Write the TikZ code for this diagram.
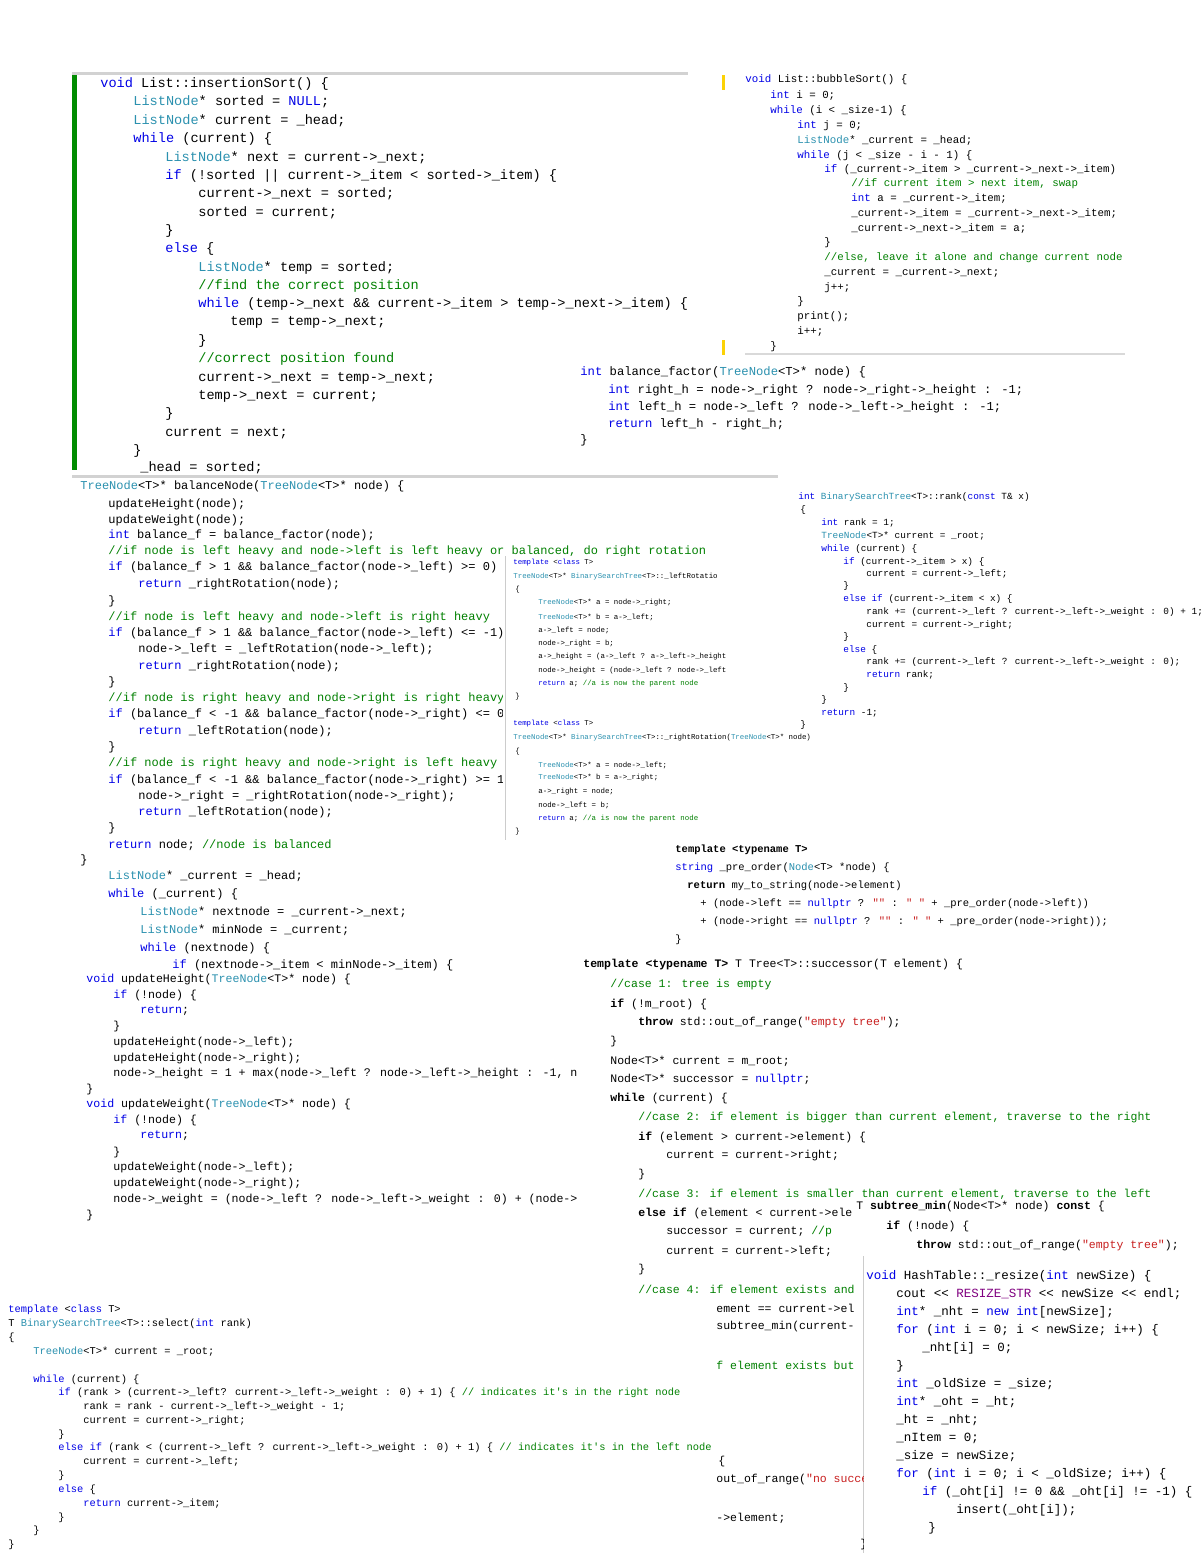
\documentclass[tikz,border=0pt]{standalone}
\usepackage{fontspec}
\newfontfamily\cf{Liberation Mono}
\definecolor{kw}{RGB}{0,0,230}
\definecolor{ty}{RGB}{43,145,175}
\definecolor{cm}{RGB}{0,128,0}
\definecolor{st}{RGB}{200,30,30}
\definecolor{fn}{RGB}{116,83,31}
\newcommand\kw[1]{\textcolor{kw}{#1}}
\newcommand\ty[1]{\textcolor{ty}{#1}}
\newcommand\cm[1]{\textcolor{cm}{#1}}
\newcommand\st[1]{\textcolor{st}{#1}}
\def\fs{6}
\newcommand\cl[3]{\node[anchor=west,inner sep=0pt,font=\cf\fontsize{\fs}{\fs}\selectfont] at (#1,#2) {#3};}
\catcode`\_=12
\begin{document}
\begin{tikzpicture}[x=0.5pt,y=-0.5pt]
\useasboundingbox[fill=white] (0,0) rectangle (1200,1553);
% decorations
\fill[gray!35] (72,72) rectangle (688,75);
\fill[green!55!black] (72,75) rectangle (77,470);
\fill[gray!35] (72,475) rectangle (778,478);
\fill[gray!30] (745,353) rectangle (1125,355);
\fill[yellow!70!orange] (722,75) rectangle (725,90);
\fill[yellow!70!orange] (722,340) rectangle (725,355);
\draw[gray!40] (863,1200) -- (863,1553);
% Block A insertionSort
\def\fs{6.8}
\cl{100}{84}{\kw{void} List::insertionSort() \{}
\cl{133}{102}{\ty{ListNode}* sorted = \kw{NULL};}
\cl{133}{121}{\ty{ListNode}* current = _head;}
\cl{133}{139}{\kw{while} (current) \{}
\cl{165}{158}{\ty{ListNode}* next = current->_next;}
\cl{165}{176}{\kw{if} (!sorted || current->_item < sorted->_item) \{}
\cl{198}{194}{current->_next = sorted;}
\cl{198}{213}{sorted = current;}
\cl{165}{231}{\}}
\cl{165}{249}{\kw{else} \{}
\cl{198}{268}{\ty{ListNode}* temp = sorted;}
\cl{198}{286}{\cm{//find the correct position}}
\cl{198}{304}{\kw{while} (temp->_next \&\& current->_item > temp->_next->_item) \{}
\cl{230}{322}{temp = temp->_next;}
\cl{198}{341}{\}}
\cl{198}{359}{\cm{//correct position found}}
\cl{198}{378}{current->_next = temp->_next;}
\cl{198}{396}{temp->_next = current;}
\cl{165}{414}{\}}
\cl{165}{433}{current = next;}
\cl{133}{451}{\}}
\cl{140}{468}{_head = sorted;}
% Block B bubbleSort
\def\fs{5.4}
\cl{745}{80}{\kw{void} List::bubbleSort() \{}
\cl{770}{96}{\kw{int} i = 0;}
\cl{770}{111}{\kw{while} (i < _size-1) \{}
\cl{797}{126}{\kw{int} j = 0;}
\cl{797}{141}{\ty{ListNode}* _current = _head;}
\cl{797}{156}{\kw{while} (j < _size - i - 1) \{}
\cl{824}{170}{\kw{if} (_current->_item > _current->_next->_item)}
\cl{851}{184}{\cm{//if current item > next item, swap}}
\cl{851}{199}{\kw{int} a = _current->_item;}
\cl{851}{214}{_current->_item = _current->_next->_item;}
\cl{851}{229}{_current->_next->_item = a;}
\cl{824}{243}{\}}
\cl{824}{258}{\cm{//else, leave it alone and change current node}}
\cl{824}{273}{_current = _current->_next;}
\cl{824}{288}{j++;}
\cl{797}{302}{\}}
\cl{797}{317}{print();}
\cl{797}{332}{i++;}
\cl{770}{347}{\}}
% Block C balance_factor
\def\fs{6.1}
\cl{580}{372}{\kw{int} balance_factor(\ty{TreeNode}<T>* node) \{}
\cl{608}{390}{\kw{int} right_h = node->_right ? node->_right->_height : -1;}
\cl{608}{407}{\kw{int} left_h = node->_left ? node->_left->_height : -1;}
\cl{608}{424}{\kw{return} left_h - right_h;}
\cl{580}{440}{\}}
% Block D balanceNode
\def\fs{6.0}
\cl{80}{486}{\ty{TreeNode}<T>* balanceNode(\ty{TreeNode}<T>* node) \{}
\cl{108}{504}{updateHeight(node);}
\cl{108}{520}{updateWeight(node);}
\cl{108}{535}{\kw{int} balance_f = balance_factor(node);}
\cl{108}{551}{\cm{//if node is left heavy and node->left is left heavy or balanced, do right rotation}}
\cl{108}{567}{\kw{if} (balance_f > 1 \&\& balance_factor(node->_left) >= 0) \{}
\cl{138}{584}{\kw{return} _rightRotation(node);}
\cl{108}{601}{\}}
\cl{108}{617}{\cm{//if node is left heavy and node->left is right heavy}}
\cl{108}{633}{\kw{if} (balance_f > 1 \&\& balance_factor(node->_left) <= -1) \{}
\cl{138}{649}{node->_left = _leftRotation(node->_left);}
\cl{138}{666}{\kw{return} _rightRotation(node);}
\cl{108}{682}{\}}
\cl{108}{698}{\cm{//if node is right heavy and node->right is right heavy}}
\cl{108}{714}{\kw{if} (balance_f < -1 \&\& balance_factor(node->_right) <= 0) \{}
\cl{138}{731}{\kw{return} _leftRotation(node);}
\cl{108}{747}{\}}
\cl{108}{763}{\cm{//if node is right heavy and node->right is left heavy}}
\cl{108}{780}{\kw{if} (balance_f < -1 \&\& balance_factor(node->_right) >= 1) \{}
\cl{138}{796}{node->_right = _rightRotation(node->_right);}
\cl{138}{812}{\kw{return} _leftRotation(node);}
\cl{108}{828}{\}}
\cl{108}{845}{\kw{return} node;   \cm{//node is balanced}}
\cl{80}{860}{\}}
% Block E rotations (overlay)
\fill[white] (503,556) rectangle (797,840);
\draw[gray!40] (505,556) -- (505,840);
\def\fs{3.7}
\cl{513}{563}{\kw{template} <\kw{class} T>}
\cl{513}{577}{\ty{TreeNode}<T>* \ty{BinarySearchTree}<T>::_leftRotatio}
\cl{515}{590}{\{}
\cl{538}{603}{\ty{TreeNode}<T>* a = node->_right;}
\cl{538}{617}{\ty{TreeNode}<T>* b = a->_left;}
\cl{538}{630}{a->_left = node;}
\cl{538}{644}{node->_right = b;}
\cl{538}{657}{a->_height = (a->_left ? a->_left->_height}
\cl{538}{671}{node->_height = (node->_left ? node->_left}
\cl{538}{684}{\kw{return} a; \cm{//a is now the parent node}}
\cl{515}{697}{\}}
\cl{513}{724}{\kw{template} <\kw{class} T>}
\cl{513}{738}{\ty{TreeNode}<T>* \ty{BinarySearchTree}<T>::_rightRotation(\ty{TreeNode}<T>* node)}
\cl{515}{752}{\{}
\cl{538}{765}{\ty{TreeNode}<T>* a = node->_left;}
\cl{538}{778}{\ty{TreeNode}<T>* b = a->_right;}
\cl{538}{792}{a->_right = node;}
\cl{538}{805}{node->_left = b;}
\cl{538}{819}{\kw{return} a; \cm{//a is now the parent node}}
\cl{515}{832}{\}}
% Block F rank
\def\fs{4.7}
\cl{798}{497}{\kw{int}  \ty{BinarySearchTree}<T>::rank(\kw{const} T\& x)}
\cl{800}{510}{\{}
\cl{821}{523}{\kw{int} rank = 1;}
\cl{821}{536}{\ty{TreeNode}<T>* current = _root;}
\cl{821}{549}{\kw{while} (current) \{}
\cl{843}{562}{\kw{if} (current->_item > x) \{}
\cl{866}{574}{current = current->_left;}
\cl{843}{586}{\}}
\cl{843}{599}{\kw{else if} (current->_item < x) \{}
\cl{866}{612}{rank += (current->_left ? current->_left->_weight : 0) + 1;}
\cl{866}{625}{current = current->_right;}
\cl{843}{637}{\}}
\cl{843}{650}{\kw{else} \{}
\cl{866}{662}{rank += (current->_left ? current->_left->_weight : 0);}
\cl{866}{675}{\kw{return} rank;}
\cl{843}{688}{\}}
\cl{821}{700}{\}}
\cl{821}{713}{\kw{return} -1;}
\cl{800}{725}{\}}
% Block G pre_order
\def\fs{5.25}
\cl{675}{850}{\textbf{template <typename T>}}
\cl{675}{868}{\kw{string} _pre_order(\ty{Node}<T> *node) \{}
\cl{687}{886}{\textbf{return} my_to_string(node->element)}
\cl{700}{904}{+ (node->left == \kw{nullptr} ? \st{""} : \st{" "} + _pre_order(node->left))}
\cl{700}{922}{+ (node->right == \kw{nullptr} ? \st{""} : \st{" "} + _pre_order(node->right));}
\cl{675}{940}{\}}
% Block H selection sort fragment
\def\fs{6.0}
\cl{108}{876}{\ty{ListNode}* _current = _head;}
\cl{108}{894}{\kw{while} (_current) \{}
\cl{140}{912}{\ty{ListNode}* nextnode = _current->_next;}
\cl{140}{930}{\ty{ListNode}* minNode = _current;}
\cl{140}{948}{\kw{while} (nextnode) \{}
\cl{172}{965}{\kw{if} (nextnode->_item < minNode->_item) \{}
% Block I updateHeight / updateWeight
\fill[white] (80,972) rectangle (578,1222);
\def\fs{5.8}
\cl{86}{979}{\kw{void} updateHeight(\ty{TreeNode}<T>* node) \{}
\cl{113}{995}{\kw{if} (!node) \{}
\cl{140}{1011}{\kw{return};}
\cl{113}{1026}{\}}
\cl{113}{1042}{updateHeight(node->_left);}
\cl{113}{1058}{updateHeight(node->_right);}
\cl{113}{1073}{node->_height = 1 + max(node->_left ? node->_left->_height : -1, n}
\cl{86}{1089}{\}}
\cl{86}{1104}{\kw{void} updateWeight(\ty{TreeNode}<T>* node) \{}
\cl{113}{1120}{\kw{if} (!node) \{}
\cl{140}{1136}{\kw{return};}
\cl{113}{1152}{\}}
\cl{113}{1167}{updateWeight(node->_left);}
\cl{113}{1183}{updateWeight(node->_right);}
\cl{113}{1199}{node->_weight = (node->_left ? node->_left->_weight : 0) + (node->}
\cl{86}{1215}{\}}
% Block J successor
\def\fs{5.75}
\cl{583}{965}{\textbf{template <typename T>} T Tree<T>::successor(T element) \{}
\cl{610}{985}{\cm{//case 1: tree is empty}}
\cl{610}{1004}{\textbf{if} (!m_root) \{}
\cl{638}{1023}{\textbf{throw} std::out_of_range(\st{"empty tree"});}
\cl{610}{1042}{\}}
\cl{610}{1061}{Node<T>* current = m_root;}
\cl{610}{1080}{Node<T>* successor = \kw{nullptr};}
\cl{610}{1099}{\textbf{while} (current) \{}
\cl{638}{1118}{\cm{//case 2: if element is bigger than current element, traverse to the right}}
\cl{638}{1137}{\textbf{if} (element > current->element) \{}
\cl{666}{1156}{current = current->right;}
\cl{638}{1175}{\}}
\cl{638}{1194}{\cm{//case 3: if element is smaller than current element, traverse to the left}}
\cl{638}{1213}{\textbf{else if} (element < current->ele}
\cl{666}{1232}{successor = current;   \cm{//p}}
\cl{666}{1251}{current = current->left;}
\cl{638}{1270}{\}}
\cl{638}{1289}{\cm{//case 4: if element exists and}}
\cl{716}{1308}{ement == current->el}
\cl{716}{1327}{subtree_min(current-}
\cl{716}{1365}{\cm{f element exists but}}
\cl{718}{1462}{\{}
\cl{716}{1480}{out_of_range(\st{"no succe}}
\cl{716}{1518}{->element;}
\cl{860}{1545}{\}}
% Block K subtree_min
\fill[white] (852,1199) rectangle (1200,1256);
\cl{856}{1207}{T \textbf{subtree_min}(Node<T>* node) \textbf{const} \{}
\cl{886}{1226}{\textbf{if} (!node) \{}
\cl{916}{1246}{\textbf{throw} std::out_of_range(\st{"empty tree"});}
% Block L resize
\fill[white] (864,1266) rectangle (1200,1553);
\def\fs{6.25}
\cl{866}{1276}{\kw{void} HashTable::_resize(\kw{int} newSize) \{}
\cl{896}{1294}{cout << \textcolor{violet}{RESIZE_STR} << newSize << endl;}
\cl{896}{1312}{\kw{int}* _nht = \kw{new} \kw{int}[newSize];}
\cl{896}{1330}{\kw{for} (\kw{int} i = 0; i < newSize; i++) \{}
\cl{922}{1348}{_nht[i] = 0;}
\cl{896}{1366}{\}}
\cl{896}{1384}{\kw{int} _oldSize = _size;}
\cl{896}{1402}{\kw{int}* _oht = _ht;}
\cl{896}{1420}{_ht = _nht;}
\cl{896}{1438}{_nItem = 0;}
\cl{896}{1456}{_size = newSize;}
\cl{896}{1474}{\kw{for} (\kw{int} i = 0; i < _oldSize; i++) \{}
\cl{922}{1492}{\kw{if} (_oht[i] != 0 \&\& _oht[i] != -1) \{}
\cl{956}{1510}{insert(_oht[i]);}
\cl{928}{1528}{\}}
% Block M select
\def\fs{5.2}
\cl{8}{1310}{\kw{template} <\kw{class} T>}
\cl{8}{1324}{T  \ty{BinarySearchTree}<T>::select(\kw{int} rank)}
\cl{8}{1338}{\{}
\cl{33}{1352}{\ty{TreeNode}<T>* current = _root;}
\cl{33}{1380}{\kw{while} (current) \{}
\cl{58}{1393}{\kw{if} (rank > (current->_left? current->_left->_weight : 0) + 1) \{ \cm{// indicates it's in the right node}}
\cl{83}{1407}{rank = rank - current->_left->_weight - 1;}
\cl{83}{1421}{current = current->_right;}
\cl{58}{1435}{\}}
\cl{58}{1448}{\kw{else if} (rank < (current->_left ? current->_left->_weight : 0) + 1) \{   \cm{// indicates it's in the left node}}
\cl{83}{1462}{current = current->_left;}
\cl{58}{1476}{\}}
\cl{58}{1490}{\kw{else} \{}
\cl{83}{1504}{\kw{return} current->_item;}
\cl{58}{1518}{\}}
\cl{33}{1531}{\}}
\cl{8}{1545}{\}}
\end{tikzpicture}
\end{document}
